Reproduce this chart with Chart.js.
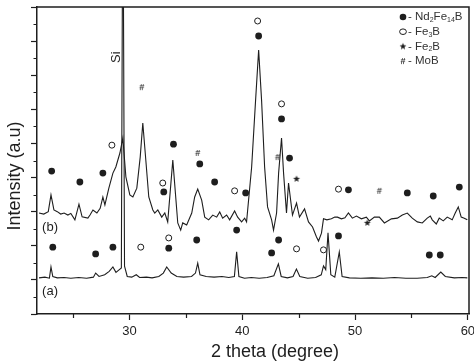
<!DOCTYPE html>
<html>
<head>
<meta charset="utf-8">
<script src="https://cdn.jsdelivr.net/npm/chart.js@4.4.1/dist/chart.umd.min.js"></script>
<style>
html, body { margin: 0; padding: 0; background: #fff; overflow: hidden; }
</style>
</head>
<body>
<canvas id="xrd" width="474" height="364"></canvas>
<script>
// XRD patterns, (b) above (a), intensity in arbitrary units

const FONT = "'Liberation Sans', Arial, sans-serif"
const INK = '#1e1e1e'

// curve (b)
let bTheta = [21.98, 22.4, 22.8, 23.04, 23.3, 23.6, 23.9, 24.2, 24.54, 24.8, 25.16, 25.52, 25.8, 26.31, 26.5, 26.76, 27.11, 27.4, 27.64, 27.82,
  28.17, 28.53, 28.79, 29.15, 29.41, 29.68, 30.03, 30.3, 30.65, 30.95, 31.18, 31.45, 31.71, 32.07, 32.24, 32.51, 32.86, 33.13, 33.39, 33.84,
  34.28, 34.54, 34.72, 35.07, 35.52, 35.78, 36.05, 36.4, 36.67, 37.02, 37.38, 37.73, 38.0, 38.26, 38.61, 38.88, 39.32, 39.59, 39.94, 40.21,
  40.38, 40.83, 41.18, 41.45, 41.71, 41.98, 42.24, 42.6, 42.77, 43.04, 43.22, 43.48, 43.66, 43.92, 44.1, 44.45, 44.81, 45.07, 45.52, 45.87,
  46.23, 46.58, 46.76, 47.02, 47.2, 47.5, 47.9, 48.2, 48.44, 48.79, 49.1, 49.41, 49.76, 50.12, 50.56, 51.0, 51.27, 51.71, 52.15, 52.6,
  53.22, 53.75, 54.19, 54.63, 55.07, 55.52, 55.96, 56.4, 56.67, 56.84, 57.2, 57.46, 57.82, 58.17, 58.61, 58.88, 59.15, 59.41, 59.68, 59.95]
let bInt = [2.96, 2.93, 3.0, 3.49, 3.05, 3.0, 2.93, 2.96, 2.9, 2.95, 2.76, 3.22, 2.85, 2.81, 2.9, 3.05, 2.96, 3.1, 3.43, 3.2,
  3.69, 4.13, 4.31, 4.72, 5.16, 4.02, 3.49, 3.43, 3.69, 4.6, 5.6, 4.5, 3.43, 3.05, 2.96, 3.05, 2.84, 2.96, 2.7, 4.51,
  2.67, 2.46, 2.67, 2.61, 2.96, 3.43, 3.66, 3.34, 2.84, 2.76, 2.9, 2.84, 2.99, 2.81, 2.9, 2.76, 3.02, 2.84, 2.7, 2.81,
  2.7, 4.31, 6.27, 7.74, 6.27, 4.31, 3.14, 2.76, 2.46, 2.96, 4.13, 5.16, 4.13, 2.96, 3.84, 2.9, 3.25, 2.84, 3.08, 2.7,
  2.55, 2.26, 2.14, 2.37, 2.79, 2.76, 2.79, 2.84, 2.84, 2.79, 2.82, 2.96, 2.81, 2.87, 2.79, 2.84, 2.73, 2.84, 2.84, 2.67,
  2.79, 2.81, 2.9, 2.96, 2.81, 2.7, 2.67, 2.81, 2.87, 2.76, 2.64, 2.81, 2.73, 2.84, 2.76, 2.96, 3.14, 2.84, 2.81, 2.76]

// curve (a)
let aTheta = [21.98, 22.5, 22.9, 23.04, 23.2, 23.6, 24.2, 24.8, 25.5, 26.2, 26.8, 27.0, 27.3, 27.8, 28.2, 28.53, 28.8, 29.1, 29.28, 29.37,
  29.46, 29.56, 29.8, 30.2, 30.6, 30.9, 31.5, 32.0, 32.6, 33.0, 33.3, 33.7, 34.2, 34.8, 35.5, 35.85, 36.05, 36.25, 36.8, 37.5,
  38.2, 38.8, 39.3, 39.5, 39.7, 40.2, 40.8, 41.5, 42.2, 42.8, 43.2, 43.45, 44.0, 44.5, 44.8, 45.1, 45.8, 46.5, 47.0, 47.2,
  47.4, 47.6, 47.85, 48.2, 48.6, 48.85, 49.5, 50.5, 51.5, 52.5, 53.5, 54.5, 55.5, 56.4, 56.8, 57.1, 57.6, 58.0, 58.8, 59.5, 59.95]
let aInt = [1.06, 1.08, 1.05, 1.38, 1.1, 1.06, 1.07, 1.05, 1.07, 1.05, 1.08, 1.2, 1.1, 1.15, 1.25, 1.38, 1.22, 1.3, 1.35, 9.6,
  9.6, 1.4, 1.1, 1.08, 1.15, 1.07, 1.08, 1.06, 1.1, 1.2, 1.38, 1.2, 1.1, 1.08, 1.1, 1.2, 1.49, 1.15, 1.1, 1.08,
  1.1, 1.07, 1.1, 1.82, 1.1, 1.05, 1.07, 1.05, 1.07, 1.12, 1.47, 1.1, 1.06, 1.1, 1.32, 1.1, 1.05, 1.07, 1.15, 1.41,
  1.3, 2.38, 1.15, 1.08, 1.82, 1.1, 1.06, 1.05, 1.06, 1.05, 1.07, 1.05, 1.05, 1.07, 1.12, 1.07, 1.23, 1.1, 1.06, 1.07, 1.06]

// phase marks [2theta, height]
let nd2fe14b = [[23.1, 4.19], [25.6, 3.87], [27.64, 4.13], [33.04, 3.58], [33.9, 4.98], [36.23, 4.4], [37.55, 3.87], [40.3, 3.55],
  [41.45, 8.15], [43.48, 5.72], [44.19, 4.57], [49.41, 3.64], [54.63, 3.55], [56.93, 3.46], [59.24, 3.72],
  [23.2, 1.96], [27.0, 1.76], [28.53, 1.96], [33.48, 1.93], [35.96, 2.17], [39.5, 2.46], [42.6, 1.79], [43.22, 2.17],
  [48.53, 2.29], [56.58, 1.73], [57.55, 1.73]]
let fe3b = [[28.44, 4.95], [32.95, 3.84], [39.32, 3.61], [41.36, 8.59], [43.48, 6.16], [48.53, 3.66],
  [31.0, 1.96], [33.48, 2.23], [44.81, 1.91], [47.2, 1.88]]
let fe2b = [[44.81, 3.96], [51.09, 2.67]]
let mob = [[31.09, 6.65], [36.05, 4.72], [43.13, 4.6], [52.15, 3.61]]

let xMinor = [25, 35, 45, 55]
let yMinor = [0.5, 1.5, 2.5, 3.5, 4.5, 5.5, 6.5, 7.5, 8.5]

let toPoints = (xs, ys) => xs.map((v, i) => ({x: v, y: ys[i]}))
let toMarks = list => list.map(p => ({x: p[0], y: p[1]}))

// small glyphs used as point styles
let hashGlyph = function(size) {
  let c = document.createElement('canvas')
  c.width = 10; c.height = 10
  let g = c.getContext('2d')
  g.fillStyle = INK
  g.font = 'bold ' + size + 'px ' + FONT
  g.textAlign = 'center'
  g.textBaseline = 'middle'
  g.fillText('#', 5, 5.5)
  return c
}
let starGlyph = function(r) {
  let c = document.createElement('canvas')
  c.width = 10; c.height = 10
  let g = c.getContext('2d')
  g.fillStyle = INK
  g.beginPath()
  for (let i = 0; i < 10; i++) {
    let rr = i % 2 ? r * 0.42 : r
    let a = -Math.PI / 2 + i * Math.PI / 5
    g.lineTo(5 + rr * Math.cos(a), 5 + rr * Math.sin(a))
  }
  g.closePath()
  g.fill()
  return c
}
let hashImg = hashGlyph(9)
let starImg = starGlyph(3.6)

let sub = (t) => [t, true]
let legendRows = [
  {style: 'dot', parts: [['- Nd'], sub('2'), ['Fe'], sub('14'), ['B']]},
  {style: 'ring', parts: [['- Fe'], sub('3'), ['B']]},
  {style: 'star', parts: [['- Fe'], sub('2'), ['B']]},
  {style: 'hash', parts: [['- MoB']]}
]

let decorations = {
  id: 'decorations',
  afterDraw(chart) {
    let ctx = chart.ctx
    let area = chart.chartArea
    let x = chart.scales.x
    let y = chart.scales.y
    ctx.save()

    // frame top + right, minor ticks
    ctx.strokeStyle = INK
    ctx.lineWidth = 1.5
    ctx.beginPath()
    ctx.moveTo(area.left, area.top)
    ctx.lineTo(area.right, area.top)
    ctx.lineTo(area.right, area.bottom)
    ctx.stroke()
    ctx.lineWidth = 1.2
    ctx.beginPath()
    xMinor.forEach(v => {
      let px = Math.round(x.getPixelForValue(v)) + 0.5
      ctx.moveTo(px, area.bottom); ctx.lineTo(px, area.bottom + 4)
    })
    yMinor.forEach(v => {
      let py = Math.round(y.getPixelForValue(v)) + 0.5
      ctx.moveTo(area.left, py); ctx.lineTo(area.left - 3.5, py)
    })
    ctx.stroke()

    // labels
    ctx.fillStyle = INK
    ctx.textBaseline = 'middle'
    ctx.font = '13px ' + FONT
    ctx.textAlign = 'left'
    ctx.fillText('(b)', x.getPixelForValue(22.25), y.getPixelForValue(2.55))
    ctx.fillText('(a)', x.getPixelForValue(22.25), y.getPixelForValue(0.67))

    ctx.save()
    ctx.translate(x.getPixelForValue(28.8), y.getPixelForValue(7.53))
    ctx.rotate(-Math.PI / 2)
    ctx.textAlign = 'center'
    ctx.fillText('Si', 0, 0)
    ctx.restore()

    // axis titles
    ctx.font = '18px ' + FONT
    ctx.textAlign = 'center'
    ctx.fillText('2 theta (degree)', 275, 352)
    ctx.save()
    ctx.translate(15, 176)
    ctx.rotate(-Math.PI / 2)
    ctx.fillText('Intensity (a.u)', 0, 0)
    ctx.restore()

    // legend
    legendRows.forEach((row, i) => {
      let ly = 17 + i * 14.7
      let lx = 403
      if (row.style === 'dot') {
        ctx.beginPath(); ctx.arc(lx, ly, 3.3, 0, Math.PI * 2); ctx.fill()
      } else if (row.style === 'ring') {
        ctx.lineWidth = 1
        ctx.beginPath(); ctx.ellipse(lx, ly, 3.4, 2.8, 0, 0, Math.PI * 2); ctx.stroke()
      } else if (row.style === 'star') {
        ctx.drawImage(starImg, lx - 5, ly - 5)
      } else {
        ctx.drawImage(hashImg, lx - 5, ly - 5)
      }
      ctx.fillStyle = '#333'
      let tx = 408
      row.parts.forEach(p => {
        ctx.font = (p[1] ? '7px ' : '11.5px ') + FONT
        ctx.textAlign = 'left'
        ctx.fillText(p[0], tx, p[1] ? ly + 3 : ly)
        tx += ctx.measureText(p[0]).width
      })
      ctx.fillStyle = INK
    })
    ctx.restore()
  }
}

let chart = new Chart(document.getElementById('xrd').getContext('2d'), {
  type: 'scatter',
  plugins: [decorations],
  data: {
    datasets: [
      {label: '(b)', data: toPoints(bTheta, bInt), showLine: true, borderColor: INK, borderWidth: 1.1, pointRadius: 0, tension: 0},
      {label: '(a)', data: toPoints(aTheta, aInt), showLine: true, borderColor: INK, borderWidth: 1.1, pointRadius: 0, tension: 0},
      {label: 'Nd2Fe14B', data: toMarks(nd2fe14b), pointStyle: 'circle', pointRadius: 3.4, backgroundColor: INK, borderColor: INK, borderWidth: 0},
      {label: 'Fe3B', data: toMarks(fe3b), pointStyle: 'circle', pointRadius: 3, backgroundColor: '#fff', borderColor: INK, borderWidth: 1},
      {label: 'Fe2B', data: toMarks(fe2b), pointStyle: starImg, pointRadius: 4},
      {label: 'MoB', data: toMarks(mob), pointStyle: hashImg, pointRadius: 4}
    ]
  },
  options: {
    responsive: false,
    animation: false,
    layout: {padding: {left: 31, top: 7, right: 4, bottom: 0}},
    plugins: {legend: {display: false}, tooltip: {enabled: false}},
    scales: {
      x: {
        type: 'linear', min: 21.8, max: 60.1,
        grid: {drawOnChartArea: false, tickLength: 6, tickColor: INK, tickWidth: 1.2},
        border: {color: INK, width: 1.5},
        ticks: {stepSize: 10, includeBounds: false, padding: 4, color: INK, maxRotation: 0, autoSkip: false, font: {family: FONT, size: 13}},
        afterFit: s => { s.height = 50; s.paddingLeft = 0; s.paddingRight = 0 }
      },
      y: {
        min: 0, max: 9,
        grid: {drawOnChartArea: false, tickLength: 6, tickColor: INK, tickWidth: 1.2},
        border: {color: INK, width: 1.5},
        ticks: {display: false, stepSize: 1},
        afterFit: s => { s.width = 6 }
      }
    }
  }
})
</script>
</body>
</html>
